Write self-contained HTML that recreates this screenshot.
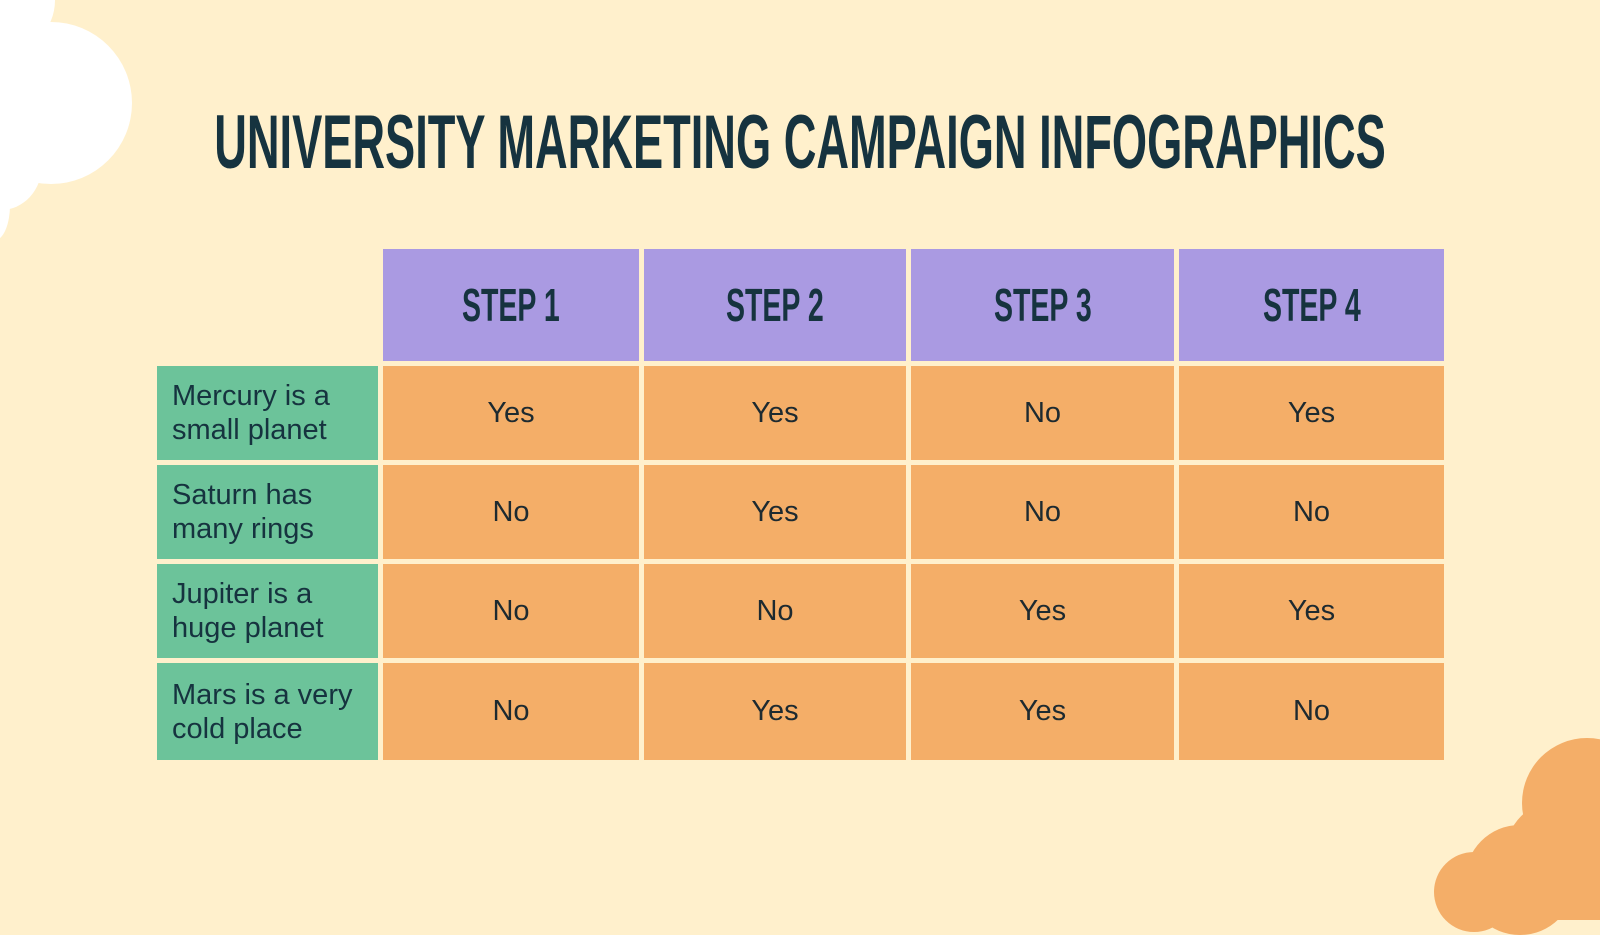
<!DOCTYPE html>
<html><head><meta charset="utf-8"><style>
body{margin:0;width:1600px;height:900px;background:#fff0cc;position:relative;overflow:hidden;font-family:"Liberation Sans",sans-serif}
.c{position:absolute;border-radius:50%}
.w{background:#fff}.o{background:#f4ae68}
h1{position:absolute;left:800px;top:98px;white-space:nowrap;margin:0;font-weight:bold;font-size:76px;line-height:90px;color:#16333f;transform:translateX(-50%) scaleX(0.595);transform-origin:50% 0}
.cell{position:absolute;display:flex;align-items:center;justify-content:center;font-size:29px;color:#1d2a30}
.h{background:#aa9ae2}
.h span{display:inline-block;font-weight:bold;font-size:46px;color:#16333f;transform:scaleX(0.62);white-space:nowrap}
.g{background:#6cc39a;justify-content:flex-start;padding-left:15px;box-sizing:border-box;line-height:34px;font-size:29px;color:#16333f}
.b{background:#f4ae68}
</style></head><body>
<div class="c w" style="left:-55px;top:-55px;width:110px;height:110px"></div>
<div class="c w" style="left:-30px;top:22px;width:162px;height:162px"></div>
<div class="c w" style="left:-40px;top:120px;width:82px;height:90px"></div>
<div class="c w" style="left:-20px;top:170px;width:30px;height:70px"></div>
<div class="c w" style="left:-40px;top:0;width:60px;height:200px;border-radius:0"></div>
<div class="c o" style="left:1522px;top:738px;width:130px;height:130px"></div>
<div class="c o" style="left:1505px;top:800px;width:110px;height:110px"></div>
<div class="c o" style="left:1465px;top:825px;width:110px;height:110px"></div>
<div class="c o" style="left:1434px;top:852px;width:80px;height:80px"></div>
<div class="c o" style="left:1550px;top:780px;width:80px;height:140px;border-radius:0"></div>
<h1>UNIVERSITY MARKETING CAMPAIGN INFOGRAPHICS</h1>
<div class="cell h" style="left:383px;top:249px;width:256px;height:112px"><span>STEP 1</span></div>
<div class="cell h" style="left:644px;top:249px;width:262px;height:112px"><span>STEP 2</span></div>
<div class="cell h" style="left:911px;top:249px;width:263px;height:112px"><span>STEP 3</span></div>
<div class="cell h" style="left:1179px;top:249px;width:265px;height:112px"><span>STEP 4</span></div>

<div class="cell g" style="left:157px;top:366px;width:221px;height:94px">Mercury is a<br>small planet</div>
<div class="cell g" style="left:157px;top:465px;width:221px;height:94px">Saturn has<br>many rings</div>
<div class="cell g" style="left:157px;top:564px;width:221px;height:94px">Jupiter is a<br>huge planet</div>
<div class="cell g" style="left:157px;top:663px;width:221px;height:97px">Mars is a very<br>cold place</div>

<div class="cell b" style="left:383px;top:366px;width:256px;height:94px">Yes</div>
<div class="cell b" style="left:644px;top:366px;width:262px;height:94px">Yes</div>
<div class="cell b" style="left:911px;top:366px;width:263px;height:94px">No</div>
<div class="cell b" style="left:1179px;top:366px;width:265px;height:94px">Yes</div>

<div class="cell b" style="left:383px;top:465px;width:256px;height:94px">No</div>
<div class="cell b" style="left:644px;top:465px;width:262px;height:94px">Yes</div>
<div class="cell b" style="left:911px;top:465px;width:263px;height:94px">No</div>
<div class="cell b" style="left:1179px;top:465px;width:265px;height:94px">No</div>

<div class="cell b" style="left:383px;top:564px;width:256px;height:94px">No</div>
<div class="cell b" style="left:644px;top:564px;width:262px;height:94px">No</div>
<div class="cell b" style="left:911px;top:564px;width:263px;height:94px">Yes</div>
<div class="cell b" style="left:1179px;top:564px;width:265px;height:94px">Yes</div>

<div class="cell b" style="left:383px;top:663px;width:256px;height:97px">No</div>
<div class="cell b" style="left:644px;top:663px;width:262px;height:97px">Yes</div>
<div class="cell b" style="left:911px;top:663px;width:263px;height:97px">Yes</div>
<div class="cell b" style="left:1179px;top:663px;width:265px;height:97px">No</div>
</body></html>
